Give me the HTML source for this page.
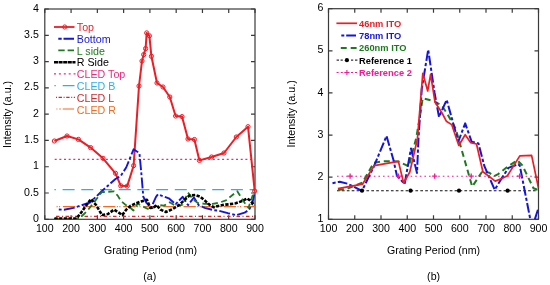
<!DOCTYPE html><html><head><meta charset="utf-8"><style>html,body{margin:0;padding:0;background:#fff;}svg{display:block;will-change:transform;}</style></head><body>
<svg width="550" height="285" viewBox="0 0 550 285" font-family='"Liberation Sans", sans-serif' font-size="10.6">
<rect width="550" height="285" fill="#fff"/>
<defs><clipPath id="cl"><rect x="44.8" y="9.0" width="210.2" height="210.3"/></clipPath><clipPath id="cr"><rect x="328.5" y="8.7" width="210.0" height="210.60000000000002"/></clipPath></defs>
<rect x="44.8" y="9.0" width="210.20" height="210.30" fill="none" stroke="#3a3a3a" stroke-width="1.2"/>
<path d="M44.80,219.3v-4M44.80,9.0v4M71.07,219.3v-4M71.07,9.0v4M97.35,219.3v-4M97.35,9.0v4M123.62,219.3v-4M123.62,9.0v4M149.90,219.3v-4M149.90,9.0v4M176.18,219.3v-4M176.18,9.0v4M202.45,219.3v-4M202.45,9.0v4M228.72,219.3v-4M228.72,9.0v4M255.00,219.3v-4M255.00,9.0v4M44.8,219.30h4M255.0,219.30h-4M44.8,193.01h4M255.0,193.01h-4M44.8,166.73h4M255.0,166.73h-4M44.8,140.44h4M255.0,140.44h-4M44.8,114.15h4M255.0,114.15h-4M44.8,87.86h4M255.0,87.86h-4M44.8,61.57h4M255.0,61.57h-4M44.8,35.29h4M255.0,35.29h-4M44.8,9.00h4M255.0,9.00h-4" stroke="#3a3a3a" stroke-width="1.2" fill="none"/>
<text x="44.80" y="231.8" text-anchor="middle">100</text>
<text x="71.07" y="231.8" text-anchor="middle">200</text>
<text x="97.35" y="231.8" text-anchor="middle">300</text>
<text x="123.62" y="231.8" text-anchor="middle">400</text>
<text x="149.90" y="231.8" text-anchor="middle">500</text>
<text x="176.18" y="231.8" text-anchor="middle">600</text>
<text x="202.45" y="231.8" text-anchor="middle">700</text>
<text x="228.72" y="231.8" text-anchor="middle">800</text>
<text x="255.00" y="231.8" text-anchor="middle">900</text>
<text x="38.8" y="221.90" text-anchor="end">0</text>
<text x="38.8" y="195.61" text-anchor="end">0.5</text>
<text x="38.8" y="169.33" text-anchor="end">1</text>
<text x="38.8" y="143.04" text-anchor="end">1.5</text>
<text x="38.8" y="116.75" text-anchor="end">2</text>
<text x="38.8" y="90.46" text-anchor="end">2.5</text>
<text x="38.8" y="64.17" text-anchor="end">3</text>
<text x="38.8" y="37.89" text-anchor="end">3.5</text>
<text x="38.8" y="11.60" text-anchor="end">4</text>
<rect x="328.5" y="8.7" width="210.00" height="210.60" fill="none" stroke="#3a3a3a" stroke-width="1.2"/>
<path d="M328.50,219.3v-4M328.50,8.7v4M354.75,219.3v-4M354.75,8.7v4M381.00,219.3v-4M381.00,8.7v4M407.25,219.3v-4M407.25,8.7v4M433.50,219.3v-4M433.50,8.7v4M459.75,219.3v-4M459.75,8.7v4M486.00,219.3v-4M486.00,8.7v4M512.25,219.3v-4M512.25,8.7v4M538.50,219.3v-4M538.50,8.7v4M328.5,219.30h4M538.5,219.30h-4M328.5,177.18h4M538.5,177.18h-4M328.5,135.06h4M538.5,135.06h-4M328.5,92.94h4M538.5,92.94h-4M328.5,50.82h4M538.5,50.82h-4M328.5,8.70h4M538.5,8.70h-4" stroke="#3a3a3a" stroke-width="1.2" fill="none"/>
<text x="328.50" y="231.8" text-anchor="middle">100</text>
<text x="354.75" y="231.8" text-anchor="middle">200</text>
<text x="381.00" y="231.8" text-anchor="middle">300</text>
<text x="407.25" y="231.8" text-anchor="middle">400</text>
<text x="433.50" y="231.8" text-anchor="middle">500</text>
<text x="459.75" y="231.8" text-anchor="middle">600</text>
<text x="486.00" y="231.8" text-anchor="middle">700</text>
<text x="512.25" y="231.8" text-anchor="middle">800</text>
<text x="538.50" y="231.8" text-anchor="middle">900</text>
<text x="323.4" y="221.90" text-anchor="end">1</text>
<text x="323.4" y="179.78" text-anchor="end">2</text>
<text x="323.4" y="137.66" text-anchor="end">3</text>
<text x="323.4" y="95.54" text-anchor="end">4</text>
<text x="323.4" y="53.42" text-anchor="end">5</text>
<text x="323.4" y="11.30" text-anchor="end">6</text>
<text x="150.5" y="254.2" text-anchor="middle">Grating Period (nm)</text>
<text x="433.6" y="254.2" text-anchor="middle">Grating Period (nm)</text>
<text x="149.7" y="279.5" text-anchor="middle">(a)</text>
<text x="433.6" y="279.5" text-anchor="middle">(b)</text>
<text transform="translate(10.8,114.5) rotate(-90)" text-anchor="middle">Intensity (a.u.)</text>
<text transform="translate(295.1,113.9) rotate(-90)" text-anchor="middle">Intensity (a.u.)</text>
<g clip-path="url(#cl)" fill="none" stroke-linejoin="round">
<path d="M54,159.3H255" stroke="#ee2a7b" stroke-width="1.3" stroke-dasharray="2 2.65" stroke-dashoffset="-0.7"/>
<path d="M54.4,189.6H255" stroke="#2cb0ec" stroke-width="1.4" stroke-dasharray="12 6.7" stroke-dashoffset="10.5"/>
<path d="M56,216.4H255" stroke="#cf2a2e" stroke-width="1.2" stroke-dasharray="3.5 2.5 1 2.5"/>
<path d="M56.6,206.6H255" stroke="#f26b22" stroke-width="1.2" stroke-dasharray="1 1.5 1 2.8 12.3 1.5"/>
<polyline points="54.4,141.0 67.0,136.0 78.4,139.4 90.6,147.6 103.0,158.3 115.5,173.3 120.8,185.8 127.2,186.1 133.6,165.7 139.0,86.0 142.0,61.0 143.7,54.6 145.6,48.6 146.7,32.9 149.4,35.8 151.4,56.3 157.0,83.0 163.0,87.0 169.8,97.0 175.6,116.0 182.0,116.6 188.0,139.0 194.4,139.5 199.4,160.4 211.6,157.0 224.0,153.0 236.3,137.0 248.0,126.7 254.7,191.0" stroke="#ee1c24" stroke-width="2"/>
<polyline points="58.8,209.5 64.0,209.8 73.6,207.9 82.4,205.0 90.0,202.5 102.0,191.0 110.6,183.3 115.5,179.0 120.8,175.8 126.2,167.5 133.6,149.3 138.0,152.3 139.5,153.8 141.5,175.0 143.3,196.8 146.7,203.2 151.1,207.6 156.0,196.8 158.0,194.3 168.8,198.3 175.7,204.2 182.6,196.8 188.0,205.1 193.9,197.5 198.8,205.3 204.7,207.8 213.6,210.2 218.5,210.7 227.8,213.2 236.2,215.1 244.6,212.7 249.0,209.7 252.0,204.8 254.6,193.0" stroke="#1414e0" stroke-width="1.9" stroke-dasharray="11 2.3 2.8 2.3" stroke-dashoffset="13.3"/>
<polyline points="54.0,219.0 77.0,219.0 79.5,218.2 84.0,214.0 87.3,210.8 93.9,202.5 101.7,192.2 114.0,191.4 117.9,195.9 120.9,200.8 125.3,204.7 129.7,207.2 133.4,210.5 137.6,203.8 147.4,208.7 150.0,209.6 158.0,205.0 164.0,205.6 169.8,202.2 176.7,206.6 182.6,204.6 188.0,192.6 193.4,199.7 197.9,202.9 204.7,203.8 212.6,203.8 218.5,202.9 225.9,200.4 237.3,191.2 243.0,200.5 246.0,204.8 248.5,207.8 251.0,200.0 254.4,190.7" stroke="#1e7a1e" stroke-width="1.8" stroke-dasharray="6 3.5"/>
<polyline points="54.4,218.5 76.5,218.5 81.4,212.3 84.4,207.9 87.3,204.0 91.0,199.0 96.0,205.0 102.0,215.0 108.0,214.0 114.0,209.6 117.9,212.1 122.3,215.0 126.3,209.6 130.7,205.7 135.1,203.8 140.0,201.8 146.9,199.8 150.3,208.0 153.6,207.6 156.5,205.1 160.5,209.6 165.9,212.0 172.8,209.0 179.6,204.6 185.5,199.0 189.5,195.6 195.4,195.0 199.8,196.5 204.7,200.4 209.6,204.8 213.6,207.2 219.5,205.8 223.9,204.8 229.0,204.3 235.7,203.3 242.6,200.9 247.0,198.4 250.0,200.4 254.4,205.3" stroke="#000" stroke-width="2.6" stroke-dasharray="3.3 1.4"/>
</g>
<circle cx="54.4" cy="141" r="2.1" fill="none" stroke="#ee1c24" stroke-width="1"/>
<circle cx="67" cy="136" r="2.1" fill="none" stroke="#ee1c24" stroke-width="1"/>
<circle cx="78.4" cy="139.4" r="2.1" fill="none" stroke="#ee1c24" stroke-width="1"/>
<circle cx="90.6" cy="147.6" r="2.1" fill="none" stroke="#ee1c24" stroke-width="1"/>
<circle cx="103" cy="158.3" r="2.1" fill="none" stroke="#ee1c24" stroke-width="1"/>
<circle cx="115.5" cy="173.3" r="2.1" fill="none" stroke="#ee1c24" stroke-width="1"/>
<circle cx="120.8" cy="185.8" r="2.1" fill="none" stroke="#ee1c24" stroke-width="1"/>
<circle cx="127.2" cy="186.1" r="2.1" fill="none" stroke="#ee1c24" stroke-width="1"/>
<circle cx="133.6" cy="165.7" r="2.1" fill="none" stroke="#ee1c24" stroke-width="1"/>
<circle cx="139" cy="86" r="2.1" fill="none" stroke="#ee1c24" stroke-width="1"/>
<circle cx="142" cy="61" r="2.1" fill="none" stroke="#ee1c24" stroke-width="1"/>
<circle cx="143.7" cy="54.6" r="2.1" fill="none" stroke="#ee1c24" stroke-width="1"/>
<circle cx="145.6" cy="48.6" r="2.1" fill="none" stroke="#ee1c24" stroke-width="1"/>
<circle cx="146.7" cy="32.9" r="2.1" fill="none" stroke="#ee1c24" stroke-width="1"/>
<circle cx="149.4" cy="35.8" r="2.1" fill="none" stroke="#ee1c24" stroke-width="1"/>
<circle cx="151.4" cy="56.3" r="2.1" fill="none" stroke="#ee1c24" stroke-width="1"/>
<circle cx="157" cy="83" r="2.1" fill="none" stroke="#ee1c24" stroke-width="1"/>
<circle cx="163" cy="87" r="2.1" fill="none" stroke="#ee1c24" stroke-width="1"/>
<circle cx="169.8" cy="97" r="2.1" fill="none" stroke="#ee1c24" stroke-width="1"/>
<circle cx="175.6" cy="116" r="2.1" fill="none" stroke="#ee1c24" stroke-width="1"/>
<circle cx="182" cy="116.6" r="2.1" fill="none" stroke="#ee1c24" stroke-width="1"/>
<circle cx="188" cy="139" r="2.1" fill="none" stroke="#ee1c24" stroke-width="1"/>
<circle cx="194.4" cy="139.5" r="2.1" fill="none" stroke="#ee1c24" stroke-width="1"/>
<circle cx="199.4" cy="160.4" r="2.1" fill="none" stroke="#ee1c24" stroke-width="1"/>
<circle cx="211.6" cy="157" r="2.1" fill="none" stroke="#ee1c24" stroke-width="1"/>
<circle cx="224" cy="153" r="2.1" fill="none" stroke="#ee1c24" stroke-width="1"/>
<circle cx="236.3" cy="137" r="2.1" fill="none" stroke="#ee1c24" stroke-width="1"/>
<circle cx="248" cy="126.7" r="2.1" fill="none" stroke="#ee1c24" stroke-width="1"/>
<circle cx="254.7" cy="191" r="2.1" fill="none" stroke="#ee1c24" stroke-width="1"/>
<path d="M54,27.0H74.5" stroke="#ee1c24" stroke-width="1.8" fill="none"/><circle cx="64.7" cy="27.0" r="2.1" fill="none" stroke="#ee1c24" stroke-width="1"/>
<text x="76.8" y="30.9" fill="#ee1c24" font-size="10.7">Top</text>
<path d="M58.3,38.7h3.4M63.5,38.7H74" stroke="#1414e0" stroke-width="1.9" fill="none"/>
<text x="76.8" y="42.7" fill="#1414e0" font-size="10.7">Bottom</text>
<path d="M58.3,50.4h6.4M67.6,50.4H74" stroke="#1e7a1e" stroke-width="1.8" fill="none"/>
<text x="76.8" y="54.5" fill="#1e7a1e" font-size="10.7">L side</text>
<path d="M54,62.2H75.5" stroke="#000" stroke-width="2.6" stroke-dasharray="4 0.6" fill="none"/>
<text x="76.8" y="66.3" fill="#000" font-size="10.7">R Side</text>
<path d="M54,73.9H75.5" stroke="#ee2a7b" stroke-width="1.3" stroke-dasharray="2 2.9" fill="none"/>
<text x="76.8" y="78.1" fill="#ee2a7b" font-size="10.7">CLED Top</text>
<path d="M54.4,85.6h1.4M62.7,85.6H74.5" stroke="#2cb0ec" stroke-width="1.4" fill="none"/>
<text x="76.8" y="89.9" fill="#2cb0ec" font-size="10.7">CLED B</text>
<path d="M56,97.3H75" stroke="#cf2a2e" stroke-width="1.2" stroke-dasharray="1 1.6 3.4 1.6" fill="none"/>
<text x="76.8" y="101.7" fill="#cf2a2e" font-size="10.7">CLED L</text>
<path d="M56.4,109.0h1M59.3,109.0h1.5M62.7,109.0H74" stroke="#f26b22" stroke-width="1.2" fill="none"/>
<text x="76.8" y="113.5" fill="#f26b22" font-size="10.7">CLED R</text>
<g clip-path="url(#cr)" fill="none" stroke-linejoin="round">
<path d="M337,176.2H538.5" stroke="#f01c96" stroke-width="1.1" stroke-dasharray="1.6 3"/>
<path d="M337,190.7H538.5" stroke="#111" stroke-width="1.05" stroke-dasharray="2.7 2.2"/>
<polyline points="337.9,190.0 346.7,189.0 362.4,182.7 373.8,162.8 383.6,161.3 398.4,161.4 406.2,165.1 408.8,166.5 416.2,138.0 419.7,118.0 422.7,98.3 434.5,101.3 441.8,105.7 447.3,113.8 455.6,128.6 472.2,186.6 482.4,171.3 489.4,172.8 494.2,176.2 498.6,173.8 507.4,166.9 517.3,160.3 522.2,165.2 533.5,188.2 538.5,190.2" stroke="#1e7a1e" stroke-width="2" stroke-dasharray="6 3.8"/>
<polyline points="332.5,183.2 339.8,181.7 347.7,183.7 362.0,191.0 367.8,178.8 373.8,166.7 386.5,135.9 393.4,159.8 396.9,175.6 404.6,184.0 411.0,148.4 417.0,173.0 418.5,138.0 421.8,88.6 428.2,49.7 434.6,93.0 439.0,117.0 446.7,99.8 455.6,132.0 458.3,141.6 465.2,123.4 471.6,141.6 478.5,143.5 484.3,165.9 494.7,189.7 502.6,176.9 508.4,167.9 518.3,164.2 519.8,165.7 532.0,228.0 538.5,208.0" stroke="#1414e0" stroke-width="2" stroke-dasharray="9.8 2.2 3.2 2.2" stroke-dashoffset="12"/>
<polyline points="337.9,188.6 362.4,184.2 374.2,165.7 398.4,161.4 403.6,183.0 409.8,172.0 417.4,139.0 422.8,73.3 427.7,91.0 430.6,74.3 435.0,102.0 442.0,113.0 446.3,121.2 451.7,124.6 458.8,145.5 465.2,134.7 470.6,142.6 476.5,144.0 482.9,171.8 495.2,181.1 502.5,178.2 507.4,175.7 519.8,155.9 531.6,155.4 538.5,188.0" stroke="#ee1c24" stroke-width="1.7"/>
</g>
<circle cx="362" cy="190.7" r="2.1" fill="#000"/>
<circle cx="410.6" cy="190.7" r="2.1" fill="#000"/>
<circle cx="459" cy="190.7" r="2.1" fill="#000"/>
<circle cx="507.6" cy="190.7" r="2.1" fill="#000"/>
<path d="M347.5,176.2h5.2M350.1,173.6v5.2" stroke="#f01c96" stroke-width="1.3"/>
<path d="M395.79999999999995,176.2h5.2M398.4,173.6v5.2" stroke="#f01c96" stroke-width="1.3"/>
<path d="M432.09999999999997,176.2h5.2M434.7,173.6v5.2" stroke="#f01c96" stroke-width="1.3"/>
<path d="M468.59999999999997,176.2h5.2M471.2,173.6v5.2" stroke="#f01c96" stroke-width="1.3"/>
<path d="M517.0,176.2h5.2M519.6,173.6v5.2" stroke="#f01c96" stroke-width="1.3"/>
<path d="M336.4,23.3H357" stroke="#ee1c24" stroke-width="1.7"/>
<path d="M341.3,35.6h3M346.2,35.6H356" stroke="#1414e0" stroke-width="2"/>
<path d="M340.8,47.9h5.9M350.7,47.9h5.9" stroke="#1e7a1e" stroke-width="2"/>
<path d="M336.6,60.2h2.4M340.6,60.2h2.2M351,60.2h2.2M355,60.2h2.4" stroke="#333" stroke-width="1.2"/><circle cx="346.9" cy="60.2" r="2.1" fill="#000"/>
<path d="M336.6,72.5h2M340.8,72.5h2M351,72.5h2M355,72.5h2" stroke="#f01c96" stroke-width="1.2"/><path d="M344.3,72.5h5.2M346.9,69.9v5.2" stroke="#f01c96" stroke-width="1.1"/>
<text x="359.1" y="26.6" fill="#ee1c24" font-size="9.3" font-weight="bold">46nm ITO</text>
<text x="359.1" y="38.9" fill="#1414e0" font-size="9.3" font-weight="bold">78nm ITO</text>
<text x="359.1" y="51.2" fill="#1e7a1e" font-size="9.3" font-weight="bold">260nm ITO</text>
<text x="359.1" y="63.5" fill="#000" font-size="9.3" font-weight="bold">Reference 1</text>
<text x="359.1" y="75.8" fill="#f01c96" font-size="9.3" font-weight="bold">Reference 2</text>
</svg></body></html>
